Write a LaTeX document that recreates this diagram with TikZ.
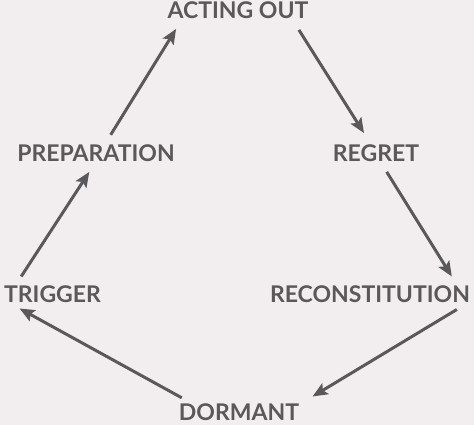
\documentclass[tikz,border=0pt]{standalone}
\usepackage{fontspec}
\setmainfont{Lato}
\usetikzlibrary{arrows.meta}
\definecolor{Ink}{HTML}{5A585B}
\definecolor{Paper}{HTML}{F2EEEF}
\tikzset{
  >={Stealth[length=15pt,width=12.5pt,inset=3pt]},
  phase/.style={inner sep=0pt,text height=16pt,text depth=0pt,text=Ink,
    font=\fontsize{23}{27}\selectfont\bfseries},
  flow/.style={->,line width=3pt,draw=Ink}
}
\begin{document}
\begin{tikzpicture}[x=1pt,y=1pt]
  \fill[Paper] (0,0) rectangle (474,425);
  \useasboundingbox (0,0) rectangle (474,425);
  \node[phase] (act) at (238,414.3) {ACTING OUT};
  \node[phase] (prep) at (96,271.5) {PREPARATION};
  \node[phase] (regret) at (376,271.5) {REGRET};
  \node[phase] (trig) at (52.5,130) {TRIGGER};
  \node[phase] (recon) at (370,130) {RECONSTITUTION};
  \node[phase] (dorm) at (239,12) {DORMANT};
  % the cycle
  \draw[flow] ([xshift=17.3,yshift=10.3]trig.north west) -- ([xshift=-6.7,yshift=-10.2]prep.south);
  \draw[flow] ([xshift=14.7,yshift=10.5]prep.north) -- ([xshift=8.7,yshift=-10]act.south west);
  \draw[flow] ([xshift=-9.7,yshift=-11]act.south east) -- ([xshift=-12,yshift=12.2]regret.north);
  \draw[flow] ([xshift=10.7,yshift=-10.2]regret.south) -- ([xshift=-18.3,yshift=10.3]recon.north east);
  \draw[flow] ([xshift=-13.3,yshift=-6.3]recon.south east) -- ([xshift=13.3,yshift=8.3]dorm.north east);
  \draw[flow] ([xshift=3,yshift=7]dorm.north west) -- ([xshift=15.7,yshift=-5.3]trig.south west);
\end{tikzpicture}
\end{document}
